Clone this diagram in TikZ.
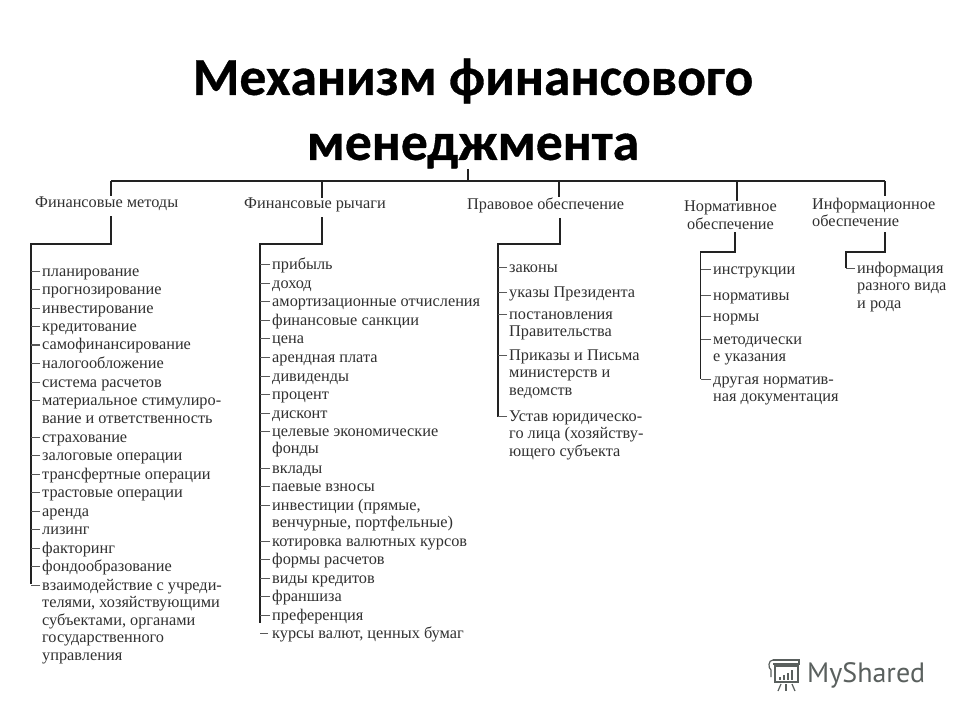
\documentclass[tikz,border=0pt]{standalone}
\usepackage{fontspec}
\setmainfont{Liberation Serif}
\newfontfamily\titlefont[BoldFeatures={FakeBold=0.6}]{Carlito}
\newfontfamily\logofont{PT Sans}
\usetikzlibrary{calc}
\definecolor{ink}{HTML}{303030}
\definecolor{rulecol}{HTML}{222222}
\definecolor{logocol}{HTML}{5A605E}
\tikzset{
  x=1pt,y=-1pt,
  rulel/.style={draw=rulecol,line width=1.3pt},
  tickl/.style={draw=rulecol!75,line width=1.1pt},
  headt/.style={inner sep=0pt,anchor=west,text=ink,font=\fontsize{16.3}{18}\selectfont,align=left},
  itemt/.style={inner sep=0pt,anchor=north west,text=ink,align=left,font=\fontsize{16.3}{18.5}\selectfont},
  itemn/.style={itemt,font=\fontsize{16.3}{17.5}\selectfont},
  titlet/.style={inner sep=0pt,text=black,align=center,font=\titlefont\bfseries\fontsize{53.5}{65}\selectfont},
  logol/.style={draw=logocol,line width=1.2pt},
}
\newcommand{\fl}{\rule{0pt}{15pt}}
\newcommand{\ticks}[2]{\foreach \n in {#2}{\path ([yshift=-10.5pt,xshift=-2pt]\n.north west) coordinate (tk); \draw[tickl] (tk) -- (tk -| #1);}}
\begin{document}
\begin{tikzpicture}
\useasboundingbox (0,0) rectangle (960,720);
\fill[white] (0,0) rectangle (960,720);
\node[titlet] (title) at (473,113.5) {Механизм финансового\\менеджмента};

% headers
\node[headt] (h1) at (35,203.5) {Финансовые методы};
\node[headt] (h2) at (244,205) {Финансовые рычаги};
\node[headt] (h3) at (467,205) {Правовое обеспечение};
\node[headt,align=center] (h4) at (684,215.5) {Нормативное\\обеспечение};
\node[headt,font=\fontsize{16.3}{17.5}\selectfont] (h5) at (812,212.5) {Информационное\\обеспечение};

% top bar
\coordinate (b1) at (111,181);
\coordinate (b2) at (322,181);
\coordinate (b3) at (559,181);
\coordinate (b4) at (737,181);
\coordinate (b5) at (885,181);
\coordinate (broot) at (468,181);
\draw[rulel] (b1) -- (b5);
\draw[rulel] (title.south -| broot) -- (broot);
\draw[rulel] (b1) -- (b1 |- h1.north);
\draw[rulel] (b2) -- (b2 |- h2.north);
\draw[rulel] (b3) -- (b3 |- h3.north);
\draw[rulel] (b4) -- (b4 |- h4.north);
\draw[rulel] (b5) -- ([yshift=2pt]b5 |- h5.north);

% column 1
\coordinate (e1) at (111,244);
\coordinate (c1) at (31,244);
\coordinate (d1) at (31,584);
\draw[rulel] ([yshift=-5.5pt]h1.south -| e1) -- (e1) -- (c1) -- (d1);
\node[itemt] (a1) at (42,261) {\fl планирование};
\node[itemt] (a2) at (42,279) {\fl прогнозирование};
\node[itemt] (a3) at (42,298) {\fl инвестирование};
\node[itemt] (a4) at (42,316) {\fl кредитование};
\node[itemt] (a5) at (42,334.5) {\fl самофинансирование};
\node[itemt] (a6) at (42,353) {\fl налогообложение};
\node[itemt] (a7) at (42,372) {\fl система расчетов};
\node[itemt] (a8) at (42,390) {\fl материальное стимулиро-\\вание и ответственность};
\node[itemt] (a9) at (42,427) {\fl страхование};
\node[itemt] (a10) at (42,445) {\fl залоговые операции};
\node[itemt] (a11) at (42,464) {\fl трансфертные операции};
\node[itemt] (a12) at (42,482) {\fl трастовые операции};
\node[itemt] (a13) at (42,501) {\fl аренда};
\node[itemt] (a14) at (42,519) {\fl лизинг};
\node[itemt] (a15) at (42,538) {\fl факторинг};
\node[itemt] (a16) at (42,556) {\fl фондообразование};
\node[itemn] (a17) at (42,575) {\fl взаимодействие с учреди-\\телями, хозяйствующими\\субъектами, органами\\государственного\\управления};
\ticks{c1}{a1,a2,a3,a4,a5,a6,a7,a8,a9,a10,a11,a12,a13,a14,a15,a16,a17}

% column 2
\coordinate (e2) at (322,244);
\coordinate (c2) at (260,244);
\coordinate (d2) at (260,623);
\draw[rulel] ([yshift=-5pt]h2.south -| e2) -- (e2) -- (c2) -- (d2);
\node[itemt] (r1) at (272,254) {\fl прибыль};
\node[itemt] (r2) at (272,273) {\fl доход};
\node[itemt] (r3) at (272,291) {\fl амортизационные отчисления};
\node[itemt] (r4) at (272,310) {\fl финансовые санкции};
\node[itemt] (r5) at (272,328) {\fl цена};
\node[itemt] (r6) at (272,347) {\fl арендная плата};
\node[itemt] (r7) at (272,366) {\fl дивиденды};
\node[itemt] (r8) at (272,384) {\fl процент};
\node[itemt] (r9) at (272,403) {\fl дисконт};
\node[itemn] (r10) at (272,421) {\fl целевые экономические\\фонды};
\node[itemt] (r11) at (272,458) {\fl вклады};
\node[itemt] (r12) at (272,476) {\fl паевые взносы};
\node[itemn] (r13) at (272,495) {\fl инвестиции (прямые,\\венчурные, портфельные)};
\node[itemt] (r14) at (272,531) {\fl котировка валютных курсов};
\node[itemt] (r15) at (272,549) {\fl формы расчетов};
\node[itemt] (r16) at (272,568) {\fl виды кредитов};
\node[itemt] (r17) at (272,586) {\fl франшиза};
\node[itemt] (r18) at (272,605) {\fl преференция};
\node[itemt] (r19) at (272,623) {\fl курсы валют, ценных бумаг};
\ticks{c2}{r1,r2,r3,r4,r5,r6,r7,r8,r9,r10,r11,r12,r13,r14,r15,r16,r17,r18}
\path ([yshift=-10.5pt,xshift=-4pt]r19.north west) coordinate (tkl);
\draw[tickl] (tkl) -- (tkl -| c2);

% column 3
\coordinate (e3) at (560,244);
\coordinate (c3) at (498,244);
\coordinate (d3) at (498,417);
\draw[rulel] ([yshift=-5pt]h3.south -| e3) -- (e3) -- (c3) -- (d3);
\node[itemt] (p1) at (509,257) {\fl законы};
\node[itemt] (p2) at (509,282) {\fl указы Президента};
\node[itemn] (p3) at (509,304) {\fl постановления\\Правительства};
\node[itemn] (p4) at (509,345) {\fl Приказы и Письма\\министерств и\\ведомств};
\node[itemn] (p5) at (509,406) {\fl Устав юридическо-\\го лица (хозяйству-\\ющего субъекта};
\ticks{c3}{p1,p2,p3,p4,p5}

% column 4
\coordinate (e4) at (735,252);
\coordinate (c4) at (700.5,252);
\coordinate (d4) at (700.5,379);
\draw[rulel] ([yshift=-2pt]h4.south -| e4) -- (e4) -- (c4) -- (d4);
\node[itemt] (n1) at (713,259) {\fl инструкции};
\node[itemt] (n2) at (713,285) {\fl нормативы};
\node[itemt] (n3) at (713,306) {\fl нормы};
\node[itemn] (n4) at (713,329) {\fl методически\\е указания};
\node[itemn] (n5) at (713,369) {\fl другая норматив-\\ная документация};
\ticks{c4}{n1,n2,n3,n4,n5}

% column 5
\coordinate (e5) at (885,252);
\coordinate (c5) at (846,252);
\coordinate (d5) at (846,268);
\draw[rulel] ([yshift=-5pt]h5.south -| e5) -- (e5) -- (c5) -- (d5);
\node[itemn] (i1) at (857,258) {\fl информация\\разного вида\\и рода};
\ticks{c5}{i1}

% logo
\draw[logol] (773,660) -- (799,660) -- (799,664) -- (773,664);
\draw[logol] (773,660) .. controls (768,660) and (768,668) .. (771,670) -- (771,677);
\draw[logol] (775,666) rectangle (798,682);
\fill[logocol] (779,677) rectangle (781,680);
\fill[logocol] (783,675) rectangle (785,680);
\fill[logocol] (787,673) rectangle (789,680);
\fill[logocol] (791,670) rectangle (793,680);
\draw[logol] (781,684) -- (778,691);
\draw[logol] (786,684) -- (786,691);
\draw[logol] (792,684) -- (795,691);
\node[inner sep=0pt,anchor=west,text=logocol,font=\logofont\fontsize{28}{30}\selectfont] (logo) at (807,675) {MyShared};
\end{tikzpicture}
\end{document}
